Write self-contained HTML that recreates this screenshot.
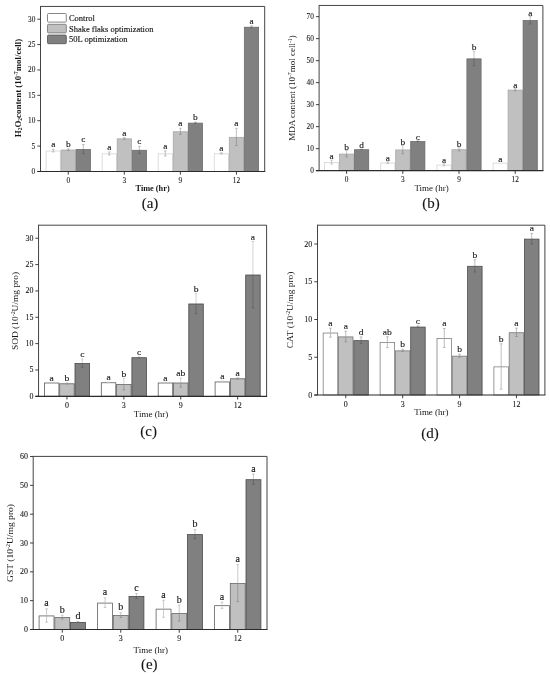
<!DOCTYPE html>
<html lang="en">
<head>
<meta charset="utf-8">
<title>Figure</title>
<style>
html,body{margin:0;padding:0;background:#fff;}
body{width:550px;height:676px;overflow:hidden;}
svg{display:block;}
text{font-family:"Liberation Serif",serif;fill:#151515;}
.tk{font-size:7.2px;stroke:#151515;stroke-width:0.08px;}
.tk2{font-size:7.3px;stroke:#151515;stroke-width:0.08px;}
.lt{font-size:9.0px;stroke:#1a1a1a;stroke-width:0.13px;}
.lc,.ld{font-size:9.2px;}
.le{font-size:9.6px;}
.al{font-size:9.1px;font-weight:bold;}
.ar{font-size:8.9px;}
.su{font-size:5.6px;}
.lg{font-size:9.2px;stroke:#151515;stroke-width:0.15px;}
.cp{font-size:15px;stroke:#151515;stroke-width:0.12px;}
</style>
</head>
<body>
<svg width="550" height="676" viewBox="0 0 550 676">
<rect x="0" y="0" width="550" height="676" fill="#ffffff"/>
<g id="chart-a">
<rect x="46.1" y="151.04" width="14.25" height="20.41" fill="#ffffff" stroke="#d4d4d4" stroke-width="0.8"/>
<rect x="61.15" y="150.03" width="14.25" height="21.42" fill="#c0c0c0" stroke="#a8a8a8" stroke-width="0.8"/>
<rect x="76.2" y="149.52" width="14.25" height="21.93" fill="#808080" stroke="#6c6c6c" stroke-width="0.8"/>
<rect x="102.15" y="153.83" width="14.25" height="17.62" fill="#ffffff" stroke="#d4d4d4" stroke-width="0.8"/>
<rect x="117.2" y="138.86" width="14.25" height="32.59" fill="#c0c0c0" stroke="#a8a8a8" stroke-width="0.8"/>
<rect x="132.25" y="150.28" width="14.25" height="21.17" fill="#808080" stroke="#6c6c6c" stroke-width="0.8"/>
<rect x="158.2" y="153.83" width="14.25" height="17.62" fill="#ffffff" stroke="#d4d4d4" stroke-width="0.8"/>
<rect x="173.25" y="131.76" width="14.25" height="39.69" fill="#c0c0c0" stroke="#a8a8a8" stroke-width="0.8"/>
<rect x="188.3" y="123.13" width="14.25" height="48.32" fill="#808080" stroke="#6c6c6c" stroke-width="0.8"/>
<rect x="214.25" y="153.83" width="14.25" height="17.62" fill="#ffffff" stroke="#d4d4d4" stroke-width="0.8"/>
<rect x="229.3" y="137.34" width="14.25" height="34.11" fill="#c0c0c0" stroke="#a8a8a8" stroke-width="0.8"/>
<rect x="244.35" y="27.21" width="14.25" height="144.24" fill="#808080" stroke="#6c6c6c" stroke-width="0.8"/>
<path d="M53.23 150.64V149.37M51.93 149.37H54.52" stroke="#a8a8a8" stroke-width="0.7" fill="none"/>
<path d="M53.23 150.64V151.91M51.93 151.91H54.52" stroke="#a8a8a8" stroke-width="0.7" fill="none"/>
<text transform="translate(53.23 147.17) scale(1.04 1)" class="lt la" text-anchor="middle">a</text>
<path d="M68.28 149.63V148.87M66.98 148.87H69.58" stroke="#a8a8a8" stroke-width="0.7" fill="none"/>
<path d="M68.28 149.63V150.39M66.98 150.39H69.58" stroke="#8a8a8a" stroke-width="0.7" fill="none"/>
<text transform="translate(68.28 146.67) scale(1.04 1)" class="lt la" text-anchor="middle">b</text>
<path d="M83.33 149.12V144.55M82.03 144.55H84.63" stroke="#a8a8a8" stroke-width="0.7" fill="none"/>
<path d="M83.33 149.12V153.69M82.03 153.69H84.63" stroke="#5c5c5c" stroke-width="0.7" fill="none"/>
<text transform="translate(83.33 142.35) scale(1.04 1)" class="lt la" text-anchor="middle">c</text>
<path d="M109.28 153.43V151.91M107.98 151.91H110.58" stroke="#a8a8a8" stroke-width="0.7" fill="none"/>
<path d="M109.28 153.43V154.96M107.98 154.96H110.58" stroke="#a8a8a8" stroke-width="0.7" fill="none"/>
<text transform="translate(109.28 149.71) scale(1.04 1)" class="lt la" text-anchor="middle">a</text>
<path d="M124.33 138.46V137.7M123.03 137.7H125.62" stroke="#a8a8a8" stroke-width="0.7" fill="none"/>
<path d="M124.33 138.46V139.22M123.03 139.22H125.62" stroke="#8a8a8a" stroke-width="0.7" fill="none"/>
<text transform="translate(124.33 135.5) scale(1.04 1)" class="lt la" text-anchor="middle">a</text>
<path d="M139.38 149.88V146.33M138.07 146.33H140.68" stroke="#a8a8a8" stroke-width="0.7" fill="none"/>
<path d="M139.38 149.88V153.43M138.07 153.43H140.68" stroke="#5c5c5c" stroke-width="0.7" fill="none"/>
<text transform="translate(139.38 144.13) scale(1.04 1)" class="lt la" text-anchor="middle">c</text>
<path d="M165.33 153.43V150.9M164.03 150.9H166.63" stroke="#a8a8a8" stroke-width="0.7" fill="none"/>
<path d="M165.33 153.43V155.97M164.03 155.97H166.63" stroke="#a8a8a8" stroke-width="0.7" fill="none"/>
<text transform="translate(165.33 148.7) scale(1.04 1)" class="lt la" text-anchor="middle">a</text>
<path d="M180.38 131.36V128.31M179.08 128.31H181.68" stroke="#a8a8a8" stroke-width="0.7" fill="none"/>
<path d="M180.38 131.36V134.4M179.08 134.4H181.68" stroke="#8a8a8a" stroke-width="0.7" fill="none"/>
<text transform="translate(180.38 126.11) scale(1.04 1)" class="lt la" text-anchor="middle">a</text>
<path d="M195.43 122.73V122.22M194.12 122.22H196.73" stroke="#a8a8a8" stroke-width="0.7" fill="none"/>
<path d="M195.43 122.73V123.24M194.12 123.24H196.73" stroke="#5c5c5c" stroke-width="0.7" fill="none"/>
<text transform="translate(195.43 120.02) scale(1.04 1)" class="lt la" text-anchor="middle">b</text>
<path d="M221.37 153.43V152.93M220.07 152.93H222.67" stroke="#a8a8a8" stroke-width="0.7" fill="none"/>
<path d="M221.37 153.43V153.94M220.07 153.94H222.67" stroke="#a8a8a8" stroke-width="0.7" fill="none"/>
<text transform="translate(221.37 150.73) scale(1.04 1)" class="lt la" text-anchor="middle">a</text>
<path d="M236.42 136.94V128.31M235.12 128.31H237.72" stroke="#a8a8a8" stroke-width="0.7" fill="none"/>
<path d="M236.42 136.94V145.57M235.12 145.57H237.72" stroke="#8a8a8a" stroke-width="0.7" fill="none"/>
<text transform="translate(236.42 126.11) scale(1.04 1)" class="lt la" text-anchor="middle">a</text>
<path d="M251.47 26.81V25.8M250.17 25.8H252.77" stroke="#a8a8a8" stroke-width="0.7" fill="none"/>
<path d="M251.47 26.81V27.83M250.17 27.83H252.77" stroke="#5c5c5c" stroke-width="0.7" fill="none"/>
<text transform="translate(251.47 23.6) scale(1.04 1)" class="lt la" text-anchor="middle">a</text>
<path d="M40.5 6.45H264.7V171.45" stroke="#444" stroke-width="1" fill="none"/>
<path d="M40.5 5.95V171.45" stroke="#444" stroke-width="1" fill="none"/>
<path d="M37.3 171.45H265.2" stroke="#2b2b2b" stroke-width="1.15" fill="none"/>
<path d="M37.3 171.45H40.5" stroke="#2b2b2b" stroke-width="0.9"/>
<text transform="translate(35.3 173.95) scale(1.02 1)" class="tk" text-anchor="end">0</text>
<path d="M37.3 146.07H40.5" stroke="#2b2b2b" stroke-width="0.9"/>
<text transform="translate(35.3 148.57) scale(1.02 1)" class="tk" text-anchor="end">5</text>
<path d="M37.3 120.7H40.5" stroke="#2b2b2b" stroke-width="0.9"/>
<text transform="translate(35.3 123.2) scale(1.02 1)" class="tk" text-anchor="end">10</text>
<path d="M37.3 95.32H40.5" stroke="#2b2b2b" stroke-width="0.9"/>
<text transform="translate(35.3 97.82) scale(1.02 1)" class="tk" text-anchor="end">15</text>
<path d="M37.3 69.95H40.5" stroke="#2b2b2b" stroke-width="0.9"/>
<text transform="translate(35.3 72.45) scale(1.02 1)" class="tk" text-anchor="end">20</text>
<path d="M37.3 44.57H40.5" stroke="#2b2b2b" stroke-width="0.9"/>
<text transform="translate(35.3 47.07) scale(1.02 1)" class="tk" text-anchor="end">25</text>
<path d="M37.3 19.2H40.5" stroke="#2b2b2b" stroke-width="0.9"/>
<text transform="translate(35.3 21.7) scale(1.02 1)" class="tk" text-anchor="end">30</text>
<path d="M68.28 171.45V174.65" stroke="#2b2b2b" stroke-width="0.9"/>
<text transform="translate(68.28 183.1) scale(1.02 1)" class="tk" text-anchor="middle">0</text>
<path d="M124.33 171.45V174.65" stroke="#2b2b2b" stroke-width="0.9"/>
<text transform="translate(124.33 183.1) scale(1.02 1)" class="tk" text-anchor="middle">3</text>
<path d="M180.38 171.45V174.65" stroke="#2b2b2b" stroke-width="0.9"/>
<text transform="translate(180.38 183.1) scale(1.02 1)" class="tk" text-anchor="middle">9</text>
<path d="M236.42 171.45V174.65" stroke="#2b2b2b" stroke-width="0.9"/>
<text transform="translate(236.42 183.1) scale(1.02 1)" class="tk" text-anchor="middle">12</text>
<text transform="translate(152.6 191.4) scale(0.91 1)" class="al" text-anchor="middle">Time (hr)</text>
<text transform="translate(150 208) scale(1.0 1)" class="cp" text-anchor="middle">(a)</text>
<text id="yl-a" transform="translate(20.5 88) rotate(-90) scale(0.975 1)" class="al" text-anchor="middle"><tspan>H</tspan><tspan class="su" dy="1.8">2</tspan><tspan dy="-1.8" font-size="0.1">&#8203;</tspan><tspan>O</tspan><tspan class="su" dy="1.8">2</tspan><tspan dy="-1.8" font-size="0.1">&#8203;</tspan><tspan>content (10</tspan><tspan class="su" dy="-3">-7</tspan><tspan dy="3" font-size="0.1">&#8203;</tspan><tspan>mol/cell)</tspan></text>
</g>
<g id="chart-b">
<rect x="324.5" y="162.47" width="14.2" height="8.18" fill="#ffffff" stroke="#d4d4d4" stroke-width="0.8"/>
<rect x="339.5" y="154.11" width="14.2" height="16.54" fill="#c0c0c0" stroke="#a8a8a8" stroke-width="0.8"/>
<rect x="354.5" y="149.71" width="14.2" height="20.94" fill="#808080" stroke="#6c6c6c" stroke-width="0.8"/>
<rect x="380.7" y="163.02" width="14.2" height="7.63" fill="#ffffff" stroke="#d4d4d4" stroke-width="0.8"/>
<rect x="395.7" y="149.93" width="14.2" height="20.72" fill="#c0c0c0" stroke="#a8a8a8" stroke-width="0.8"/>
<rect x="410.7" y="141.57" width="14.2" height="29.08" fill="#808080" stroke="#6c6c6c" stroke-width="0.8"/>
<rect x="436.9" y="165.11" width="14.2" height="5.54" fill="#ffffff" stroke="#d4d4d4" stroke-width="0.8"/>
<rect x="451.9" y="149.71" width="14.2" height="20.94" fill="#c0c0c0" stroke="#a8a8a8" stroke-width="0.8"/>
<rect x="466.9" y="58.85" width="14.2" height="111.8" fill="#808080" stroke="#6c6c6c" stroke-width="0.8"/>
<rect x="493.1" y="163.13" width="14.2" height="7.52" fill="#ffffff" stroke="#d4d4d4" stroke-width="0.8"/>
<rect x="508.1" y="90.09" width="14.2" height="80.56" fill="#c0c0c0" stroke="#a8a8a8" stroke-width="0.8"/>
<rect x="523.1" y="20.57" width="14.2" height="150.08" fill="#808080" stroke="#6c6c6c" stroke-width="0.8"/>
<path d="M331.6 162.07V160.09M330.3 160.09H332.9" stroke="#b0b0b0" stroke-width="0.7" fill="none"/>
<path d="M331.6 162.07V164.05M330.3 164.05H332.9" stroke="#b0b0b0" stroke-width="0.7" fill="none"/>
<text transform="translate(331.6 159.39) scale(1.04 1)" class="lt lb" text-anchor="middle">a</text>
<path d="M346.6 153.71V150.52M345.3 150.52H347.9" stroke="#b0b0b0" stroke-width="0.7" fill="none"/>
<path d="M346.6 153.71V156.9M345.3 156.9H347.9" stroke="#8a8a8a" stroke-width="0.7" fill="none"/>
<text transform="translate(346.6 149.82) scale(1.04 1)" class="lt lb" text-anchor="middle">b</text>
<path d="M361.6 149.31V149.09M360.3 149.09H362.9" stroke="#b0b0b0" stroke-width="0.7" fill="none"/>
<path d="M361.6 149.31V149.53M360.3 149.53H362.9" stroke="#5c5c5c" stroke-width="0.7" fill="none"/>
<text transform="translate(361.6 148.39) scale(1.04 1)" class="lt lb" text-anchor="middle">d</text>
<path d="M387.8 162.62V161.74M386.5 161.74H389.1" stroke="#b0b0b0" stroke-width="0.7" fill="none"/>
<path d="M387.8 162.62V163.5M386.5 163.5H389.1" stroke="#b0b0b0" stroke-width="0.7" fill="none"/>
<text transform="translate(387.8 161.04) scale(1.04 1)" class="lt lb" text-anchor="middle">a</text>
<path d="M402.8 149.53V145.35M401.5 145.35H404.1" stroke="#b0b0b0" stroke-width="0.7" fill="none"/>
<path d="M402.8 149.53V153.71M401.5 153.71H404.1" stroke="#8a8a8a" stroke-width="0.7" fill="none"/>
<text transform="translate(402.8 144.65) scale(1.04 1)" class="lt lb" text-anchor="middle">b</text>
<path d="M417.8 141.17V140.73M416.5 140.73H419.1" stroke="#b0b0b0" stroke-width="0.7" fill="none"/>
<path d="M417.8 141.17V141.61M416.5 141.61H419.1" stroke="#5c5c5c" stroke-width="0.7" fill="none"/>
<text transform="translate(417.8 140.03) scale(1.04 1)" class="lt lb" text-anchor="middle">c</text>
<path d="M444 164.71V163.61M442.7 163.61H445.3" stroke="#b0b0b0" stroke-width="0.7" fill="none"/>
<path d="M444 164.71V165.81M442.7 165.81H445.3" stroke="#b0b0b0" stroke-width="0.7" fill="none"/>
<text transform="translate(444 162.91) scale(1.04 1)" class="lt lb" text-anchor="middle">a</text>
<path d="M459 149.31V147.77M457.7 147.77H460.3" stroke="#b0b0b0" stroke-width="0.7" fill="none"/>
<path d="M459 149.31V150.85M457.7 150.85H460.3" stroke="#8a8a8a" stroke-width="0.7" fill="none"/>
<text transform="translate(459 147.07) scale(1.04 1)" class="lt lb" text-anchor="middle">b</text>
<path d="M474 58.45V51.19M472.7 51.19H475.3" stroke="#b0b0b0" stroke-width="0.7" fill="none"/>
<path d="M474 58.45V65.71M472.7 65.71H475.3" stroke="#5c5c5c" stroke-width="0.7" fill="none"/>
<text transform="translate(474 50.49) scale(1.04 1)" class="lt lb" text-anchor="middle">b</text>
<text transform="translate(500.2 162.03) scale(1.04 1)" class="lt lb" text-anchor="middle">a</text>
<path d="M515.2 89.69V88.59M513.9 88.59H516.5" stroke="#b0b0b0" stroke-width="0.7" fill="none"/>
<path d="M515.2 89.69V90.79M513.9 90.79H516.5" stroke="#8a8a8a" stroke-width="0.7" fill="none"/>
<text transform="translate(515.2 87.89) scale(1.04 1)" class="lt lb" text-anchor="middle">a</text>
<path d="M530.2 20.17V16.43M528.9 16.43H531.5" stroke="#b0b0b0" stroke-width="0.7" fill="none"/>
<path d="M530.2 20.17V23.91M528.9 23.91H531.5" stroke="#5c5c5c" stroke-width="0.7" fill="none"/>
<text transform="translate(530.2 15.73) scale(1.04 1)" class="lt lb" text-anchor="middle">a</text>
<path d="M319.1 5.45H542.9V170.65" stroke="#444" stroke-width="1" fill="none"/>
<path d="M319.1 4.95V170.65" stroke="#444" stroke-width="1" fill="none"/>
<path d="M315.9 170.65H543.4" stroke="#2b2b2b" stroke-width="1.15" fill="none"/>
<path d="M315.9 170.65H319.1" stroke="#2b2b2b" stroke-width="0.9"/>
<text transform="translate(313.9 173.15) scale(1.02 1)" class="tk" text-anchor="end">0</text>
<path d="M315.9 148.65H319.1" stroke="#2b2b2b" stroke-width="0.9"/>
<text transform="translate(313.9 151.15) scale(1.02 1)" class="tk" text-anchor="end">10</text>
<path d="M315.9 126.65H319.1" stroke="#2b2b2b" stroke-width="0.9"/>
<text transform="translate(313.9 129.15) scale(1.02 1)" class="tk" text-anchor="end">20</text>
<path d="M315.9 104.65H319.1" stroke="#2b2b2b" stroke-width="0.9"/>
<text transform="translate(313.9 107.15) scale(1.02 1)" class="tk" text-anchor="end">30</text>
<path d="M315.9 82.65H319.1" stroke="#2b2b2b" stroke-width="0.9"/>
<text transform="translate(313.9 85.15) scale(1.02 1)" class="tk" text-anchor="end">40</text>
<path d="M315.9 60.65H319.1" stroke="#2b2b2b" stroke-width="0.9"/>
<text transform="translate(313.9 63.15) scale(1.02 1)" class="tk" text-anchor="end">50</text>
<path d="M315.9 38.65H319.1" stroke="#2b2b2b" stroke-width="0.9"/>
<text transform="translate(313.9 41.15) scale(1.02 1)" class="tk" text-anchor="end">60</text>
<path d="M315.9 16.65H319.1" stroke="#2b2b2b" stroke-width="0.9"/>
<text transform="translate(313.9 19.15) scale(1.02 1)" class="tk" text-anchor="end">70</text>
<path d="M346.6 170.65V173.85" stroke="#2b2b2b" stroke-width="0.9"/>
<text transform="translate(346.6 181.7) scale(1.02 1)" class="tk" text-anchor="middle">0</text>
<path d="M402.8 170.65V173.85" stroke="#2b2b2b" stroke-width="0.9"/>
<text transform="translate(402.8 181.7) scale(1.02 1)" class="tk" text-anchor="middle">3</text>
<path d="M459 170.65V173.85" stroke="#2b2b2b" stroke-width="0.9"/>
<text transform="translate(459 181.7) scale(1.02 1)" class="tk" text-anchor="middle">9</text>
<path d="M515.2 170.65V173.85" stroke="#2b2b2b" stroke-width="0.9"/>
<text transform="translate(515.2 181.7) scale(1.02 1)" class="tk" text-anchor="middle">12</text>
<text transform="translate(431.6 190.9) scale(1.01 1)" class="ar" text-anchor="middle">Time (hr)</text>
<text transform="translate(430.9 208.3) scale(1.0 1)" class="cp" text-anchor="middle">(b)</text>
<text id="yl-b" transform="translate(294.5 88) rotate(-90) scale(1.015 1)" class="ar" text-anchor="middle"><tspan>MDA content (10</tspan><tspan class="su" dy="-3">-7</tspan><tspan dy="3" font-size="0.1">&#8203;</tspan><tspan>mol cell</tspan><tspan class="su" dy="-3">-1</tspan><tspan dy="3" font-size="0.1">&#8203;</tspan><tspan>)</tspan></text>
</g>
<g id="chart-c">
<rect x="44.4" y="383" width="14.5" height="13.3" fill="#ffffff" stroke="#5c5c5c" stroke-width="0.8"/>
<rect x="59.7" y="383.79" width="14.5" height="12.51" fill="#c0c0c0" stroke="#626262" stroke-width="0.8"/>
<rect x="75" y="363.51" width="14.5" height="32.79" fill="#808080" stroke="#484848" stroke-width="0.8"/>
<rect x="101.3" y="382.74" width="14.5" height="13.56" fill="#ffffff" stroke="#5c5c5c" stroke-width="0.8"/>
<rect x="116.6" y="384.58" width="14.5" height="11.72" fill="#c0c0c0" stroke="#626262" stroke-width="0.8"/>
<rect x="131.9" y="357.72" width="14.5" height="38.58" fill="#808080" stroke="#484848" stroke-width="0.8"/>
<rect x="158.2" y="383" width="14.5" height="13.3" fill="#ffffff" stroke="#5c5c5c" stroke-width="0.8"/>
<rect x="173.5" y="383" width="14.5" height="13.3" fill="#c0c0c0" stroke="#626262" stroke-width="0.8"/>
<rect x="188.8" y="303.98" width="14.5" height="92.32" fill="#808080" stroke="#484848" stroke-width="0.8"/>
<rect x="215.1" y="381.95" width="14.5" height="14.35" fill="#ffffff" stroke="#5c5c5c" stroke-width="0.8"/>
<rect x="230.4" y="378.79" width="14.5" height="17.51" fill="#c0c0c0" stroke="#626262" stroke-width="0.8"/>
<rect x="245.7" y="275.01" width="14.5" height="121.29" fill="#808080" stroke="#484848" stroke-width="0.8"/>
<path d="M51.65 382.6V382.34M50.35 382.34H52.95" stroke="#c0c0c0" stroke-width="0.7" fill="none"/>
<path d="M51.65 382.6V382.87M50.35 382.87H52.95" stroke="#c0c0c0" stroke-width="0.7" fill="none"/>
<text transform="translate(51.65 380.54) scale(1.04 1)" class="lt lc" text-anchor="middle">a</text>
<path d="M66.95 383.39V382.87M65.65 382.87H68.25" stroke="#c0c0c0" stroke-width="0.7" fill="none"/>
<path d="M66.95 383.39V383.92M65.65 383.92H68.25" stroke="#8a8a8a" stroke-width="0.7" fill="none"/>
<text transform="translate(66.95 381.07) scale(1.04 1)" class="lt lc" text-anchor="middle">b</text>
<path d="M82.25 363.11V358.9M80.95 358.9H83.55" stroke="#c0c0c0" stroke-width="0.7" fill="none"/>
<path d="M82.25 363.11V367.33M80.95 367.33H83.55" stroke="#5c5c5c" stroke-width="0.7" fill="none"/>
<text transform="translate(82.25 357.1) scale(1.04 1)" class="lt lc" text-anchor="middle">c</text>
<path d="M108.55 382.34V382.08M107.25 382.08H109.85" stroke="#c0c0c0" stroke-width="0.7" fill="none"/>
<path d="M108.55 382.34V382.6M107.25 382.6H109.85" stroke="#c0c0c0" stroke-width="0.7" fill="none"/>
<text transform="translate(108.55 380.28) scale(1.04 1)" class="lt lc" text-anchor="middle">a</text>
<path d="M123.85 384.18V378.39M122.55 378.39H125.15" stroke="#c0c0c0" stroke-width="0.7" fill="none"/>
<path d="M123.85 384.18V389.98M122.55 389.98H125.15" stroke="#8a8a8a" stroke-width="0.7" fill="none"/>
<text transform="translate(123.85 376.59) scale(1.04 1)" class="lt lc" text-anchor="middle">b</text>
<path d="M139.15 357.32V356.79M137.85 356.79H140.45" stroke="#c0c0c0" stroke-width="0.7" fill="none"/>
<path d="M139.15 357.32V357.84M137.85 357.84H140.45" stroke="#5c5c5c" stroke-width="0.7" fill="none"/>
<text transform="translate(139.15 354.99) scale(1.04 1)" class="lt lc" text-anchor="middle">c</text>
<path d="M165.45 382.6V382.34M164.15 382.34H166.75" stroke="#c0c0c0" stroke-width="0.7" fill="none"/>
<path d="M165.45 382.6V382.87M164.15 382.87H166.75" stroke="#c0c0c0" stroke-width="0.7" fill="none"/>
<text transform="translate(165.45 380.54) scale(1.04 1)" class="lt lc" text-anchor="middle">a</text>
<path d="M180.75 382.6V378.02M179.45 378.02H182.05" stroke="#c0c0c0" stroke-width="0.7" fill="none"/>
<path d="M180.75 382.6V387.19M179.45 387.19H182.05" stroke="#8a8a8a" stroke-width="0.7" fill="none"/>
<text transform="translate(180.75 376.22) scale(1.04 1)" class="lt lc" text-anchor="middle">ab</text>
<path d="M196.05 303.58V293.57M194.75 293.57H197.35" stroke="#c0c0c0" stroke-width="0.7" fill="none"/>
<path d="M196.05 303.58V313.59M194.75 313.59H197.35" stroke="#5c5c5c" stroke-width="0.7" fill="none"/>
<text transform="translate(196.05 291.77) scale(1.04 1)" class="lt lc" text-anchor="middle">b</text>
<path d="M222.35 381.55V381.29M221.05 381.29H223.65" stroke="#c0c0c0" stroke-width="0.7" fill="none"/>
<path d="M222.35 381.55V381.81M221.05 381.81H223.65" stroke="#c0c0c0" stroke-width="0.7" fill="none"/>
<text transform="translate(222.35 379.49) scale(1.04 1)" class="lt lc" text-anchor="middle">a</text>
<path d="M237.65 378.39V377.6M236.35 377.6H238.95" stroke="#c0c0c0" stroke-width="0.7" fill="none"/>
<path d="M237.65 378.39V379.18M236.35 379.18H238.95" stroke="#8a8a8a" stroke-width="0.7" fill="none"/>
<text transform="translate(237.65 375.8) scale(1.04 1)" class="lt lc" text-anchor="middle">a</text>
<path d="M252.95 274.61V241.42M251.65 241.42H254.25" stroke="#c0c0c0" stroke-width="0.7" fill="none"/>
<path d="M252.95 274.61V307.8M251.65 307.8H254.25" stroke="#5c5c5c" stroke-width="0.7" fill="none"/>
<text transform="translate(252.95 239.62) scale(1.04 1)" class="lt lc" text-anchor="middle">a</text>
<path d="M38.55 225.2H266.6V396.3" stroke="#444" stroke-width="1" fill="none"/>
<path d="M38.55 224.7V396.3" stroke="#444" stroke-width="1" fill="none"/>
<path d="M35.35 396.3H267.1" stroke="#2b2b2b" stroke-width="1.15" fill="none"/>
<path d="M35.35 396.3H38.55" stroke="#2b2b2b" stroke-width="0.9"/>
<text transform="translate(33.35 398.8) scale(1.09 1)" class="tk2" text-anchor="end">0</text>
<path d="M35.35 369.96H38.55" stroke="#2b2b2b" stroke-width="0.9"/>
<text transform="translate(33.35 372.46) scale(1.09 1)" class="tk2" text-anchor="end">5</text>
<path d="M35.35 343.62H38.55" stroke="#2b2b2b" stroke-width="0.9"/>
<text transform="translate(33.35 346.12) scale(1.09 1)" class="tk2" text-anchor="end">10</text>
<path d="M35.35 317.28H38.55" stroke="#2b2b2b" stroke-width="0.9"/>
<text transform="translate(33.35 319.78) scale(1.09 1)" class="tk2" text-anchor="end">15</text>
<path d="M35.35 290.94H38.55" stroke="#2b2b2b" stroke-width="0.9"/>
<text transform="translate(33.35 293.44) scale(1.09 1)" class="tk2" text-anchor="end">20</text>
<path d="M35.35 264.6H38.55" stroke="#2b2b2b" stroke-width="0.9"/>
<text transform="translate(33.35 267.1) scale(1.09 1)" class="tk2" text-anchor="end">25</text>
<path d="M35.35 238.26H38.55" stroke="#2b2b2b" stroke-width="0.9"/>
<text transform="translate(33.35 240.76) scale(1.09 1)" class="tk2" text-anchor="end">30</text>
<path d="M66.95 396.3V399.5" stroke="#2b2b2b" stroke-width="0.9"/>
<text transform="translate(66.95 407.9) scale(1.09 1)" class="tk2" text-anchor="middle">0</text>
<path d="M123.85 396.3V399.5" stroke="#2b2b2b" stroke-width="0.9"/>
<text transform="translate(123.85 407.9) scale(1.09 1)" class="tk2" text-anchor="middle">3</text>
<path d="M180.75 396.3V399.5" stroke="#2b2b2b" stroke-width="0.9"/>
<text transform="translate(180.75 407.9) scale(1.09 1)" class="tk2" text-anchor="middle">9</text>
<path d="M237.65 396.3V399.5" stroke="#2b2b2b" stroke-width="0.9"/>
<text transform="translate(237.65 407.9) scale(1.09 1)" class="tk2" text-anchor="middle">12</text>
<text transform="translate(151 416.9) scale(1.01 1)" class="ar" text-anchor="middle">Time (hr)</text>
<text transform="translate(148.6 435.5) scale(1.0 1)" class="cp" text-anchor="middle">(c)</text>
<text id="yl-c" transform="translate(17.6 311) rotate(-90) scale(1.058 1)" class="ar" text-anchor="middle"><tspan>SOD (10</tspan><tspan class="su" dy="-3">-2</tspan><tspan dy="3" font-size="0.1">&#8203;</tspan><tspan>U/mg pro)</tspan></text>
</g>
<g id="chart-d">
<rect x="323.2" y="333.04" width="14.5" height="61.96" fill="#ffffff" stroke="#808080" stroke-width="0.8"/>
<rect x="338.5" y="336.89" width="14.5" height="58.11" fill="#c0c0c0" stroke="#787878" stroke-width="0.8"/>
<rect x="353.8" y="340.66" width="14.5" height="54.34" fill="#808080" stroke="#4c4c4c" stroke-width="0.8"/>
<rect x="380.1" y="342.55" width="14.5" height="52.45" fill="#ffffff" stroke="#808080" stroke-width="0.8"/>
<rect x="395.4" y="350.85" width="14.5" height="44.15" fill="#c0c0c0" stroke="#787878" stroke-width="0.8"/>
<rect x="410.7" y="327.07" width="14.5" height="67.93" fill="#808080" stroke="#4c4c4c" stroke-width="0.8"/>
<rect x="437" y="338.4" width="14.5" height="56.6" fill="#ffffff" stroke="#808080" stroke-width="0.8"/>
<rect x="452.3" y="356.14" width="14.5" height="38.86" fill="#c0c0c0" stroke="#787878" stroke-width="0.8"/>
<rect x="467.6" y="266.29" width="14.5" height="128.71" fill="#808080" stroke="#4c4c4c" stroke-width="0.8"/>
<rect x="493.9" y="366.86" width="14.5" height="28.14" fill="#ffffff" stroke="#808080" stroke-width="0.8"/>
<rect x="509.2" y="332.73" width="14.5" height="62.27" fill="#c0c0c0" stroke="#787878" stroke-width="0.8"/>
<rect x="524.5" y="239.12" width="14.5" height="155.88" fill="#808080" stroke="#4c4c4c" stroke-width="0.8"/>
<path d="M330.45 332.64V328.11M329.15 328.11H331.75" stroke="#a0a0a0" stroke-width="0.7" fill="none"/>
<path d="M330.45 332.64V337.17M329.15 337.17H331.75" stroke="#a0a0a0" stroke-width="0.7" fill="none"/>
<text transform="translate(330.45 326.11) scale(1.04 1)" class="lt ld" text-anchor="middle">a</text>
<path d="M345.75 336.49V331.2M344.45 331.2H347.05" stroke="#a0a0a0" stroke-width="0.7" fill="none"/>
<path d="M345.75 336.49V341.77M344.45 341.77H347.05" stroke="#8a8a8a" stroke-width="0.7" fill="none"/>
<text transform="translate(345.75 329.2) scale(1.04 1)" class="lt ld" text-anchor="middle">a</text>
<path d="M361.05 340.26V336.94M359.75 336.94H362.35" stroke="#a0a0a0" stroke-width="0.7" fill="none"/>
<path d="M361.05 340.26V343.58M359.75 343.58H362.35" stroke="#5c5c5c" stroke-width="0.7" fill="none"/>
<text transform="translate(361.05 334.94) scale(1.04 1)" class="lt ld" text-anchor="middle">d</text>
<path d="M387.35 342.15V336.71M386.05 336.71H388.65" stroke="#a0a0a0" stroke-width="0.7" fill="none"/>
<path d="M387.35 342.15V347.59M386.05 347.59H388.65" stroke="#a0a0a0" stroke-width="0.7" fill="none"/>
<text transform="translate(387.35 334.71) scale(1.04 1)" class="lt ld" text-anchor="middle">ab</text>
<path d="M402.65 350.45V349.32M401.35 349.32H403.95" stroke="#a0a0a0" stroke-width="0.7" fill="none"/>
<path d="M402.65 350.45V351.59M401.35 351.59H403.95" stroke="#8a8a8a" stroke-width="0.7" fill="none"/>
<text transform="translate(402.65 347.32) scale(1.04 1)" class="lt ld" text-anchor="middle">b</text>
<path d="M417.95 326.67V325.92M416.65 325.92H419.25" stroke="#a0a0a0" stroke-width="0.7" fill="none"/>
<path d="M417.95 326.67V327.43M416.65 327.43H419.25" stroke="#5c5c5c" stroke-width="0.7" fill="none"/>
<text transform="translate(417.95 323.92) scale(1.04 1)" class="lt ld" text-anchor="middle">c</text>
<path d="M444.25 338V328.48M442.95 328.48H445.55" stroke="#a0a0a0" stroke-width="0.7" fill="none"/>
<path d="M444.25 338V347.51M442.95 347.51H445.55" stroke="#a0a0a0" stroke-width="0.7" fill="none"/>
<text transform="translate(444.25 326.48) scale(1.04 1)" class="lt ld" text-anchor="middle">a</text>
<path d="M459.55 355.74V354.23M458.25 354.23H460.85" stroke="#a0a0a0" stroke-width="0.7" fill="none"/>
<path d="M459.55 355.74V357.25M458.25 357.25H460.85" stroke="#8a8a8a" stroke-width="0.7" fill="none"/>
<text transform="translate(459.55 352.23) scale(1.04 1)" class="lt ld" text-anchor="middle">b</text>
<path d="M474.85 265.89V259.85M473.55 259.85H476.15" stroke="#a0a0a0" stroke-width="0.7" fill="none"/>
<path d="M474.85 265.89V271.94M473.55 271.94H476.15" stroke="#5c5c5c" stroke-width="0.7" fill="none"/>
<text transform="translate(474.85 257.85) scale(1.04 1)" class="lt ld" text-anchor="middle">b</text>
<path d="M501.15 366.46V343.81M499.85 343.81H502.45" stroke="#a0a0a0" stroke-width="0.7" fill="none"/>
<path d="M501.15 366.46V389.11M499.85 389.11H502.45" stroke="#a0a0a0" stroke-width="0.7" fill="none"/>
<text transform="translate(501.15 341.81) scale(1.04 1)" class="lt ld" text-anchor="middle">b</text>
<path d="M516.45 332.33V328.18M515.15 328.18H517.75" stroke="#a0a0a0" stroke-width="0.7" fill="none"/>
<path d="M516.45 332.33V336.49M515.15 336.49H517.75" stroke="#8a8a8a" stroke-width="0.7" fill="none"/>
<text transform="translate(516.45 326.18) scale(1.04 1)" class="lt ld" text-anchor="middle">a</text>
<path d="M531.75 238.72V233.43M530.45 233.43H533.05" stroke="#a0a0a0" stroke-width="0.7" fill="none"/>
<path d="M531.75 238.72V244M530.45 244H533.05" stroke="#5c5c5c" stroke-width="0.7" fill="none"/>
<text transform="translate(531.75 231.43) scale(1.04 1)" class="lt ld" text-anchor="middle">a</text>
<path d="M317.5 225.2H544.9V395" stroke="#444" stroke-width="1" fill="none"/>
<path d="M317.5 224.7V395" stroke="#444" stroke-width="1" fill="none"/>
<path d="M314.3 395H545.4" stroke="#2b2b2b" stroke-width="1.15" fill="none"/>
<path d="M314.3 395H317.5" stroke="#2b2b2b" stroke-width="0.9"/>
<text transform="translate(312.3 397.5) scale(1.09 1)" class="tk2" text-anchor="end">0</text>
<path d="M314.3 357.25H317.5" stroke="#2b2b2b" stroke-width="0.9"/>
<text transform="translate(312.3 359.75) scale(1.09 1)" class="tk2" text-anchor="end">5</text>
<path d="M314.3 319.5H317.5" stroke="#2b2b2b" stroke-width="0.9"/>
<text transform="translate(312.3 322) scale(1.09 1)" class="tk2" text-anchor="end">10</text>
<path d="M314.3 281.75H317.5" stroke="#2b2b2b" stroke-width="0.9"/>
<text transform="translate(312.3 284.25) scale(1.09 1)" class="tk2" text-anchor="end">15</text>
<path d="M314.3 244H317.5" stroke="#2b2b2b" stroke-width="0.9"/>
<text transform="translate(312.3 246.5) scale(1.09 1)" class="tk2" text-anchor="end">20</text>
<path d="M345.75 395V398.2" stroke="#2b2b2b" stroke-width="0.9"/>
<text transform="translate(345.75 406.5) scale(1.09 1)" class="tk2" text-anchor="middle">0</text>
<path d="M402.65 395V398.2" stroke="#2b2b2b" stroke-width="0.9"/>
<text transform="translate(402.65 406.5) scale(1.09 1)" class="tk2" text-anchor="middle">3</text>
<path d="M459.55 395V398.2" stroke="#2b2b2b" stroke-width="0.9"/>
<text transform="translate(459.55 406.5) scale(1.09 1)" class="tk2" text-anchor="middle">9</text>
<path d="M516.45 395V398.2" stroke="#2b2b2b" stroke-width="0.9"/>
<text transform="translate(516.45 406.5) scale(1.09 1)" class="tk2" text-anchor="middle">12</text>
<text transform="translate(431.4 415.4) scale(1.01 1)" class="ar" text-anchor="middle">Time (hr)</text>
<text transform="translate(430 438.2) scale(1.0 1)" class="cp" text-anchor="middle">(d)</text>
<text id="yl-d" transform="translate(292.5 309.9) rotate(-90) scale(1.055 1)" class="ar" text-anchor="middle"><tspan>CAT (10</tspan><tspan class="su" dy="-3">-2</tspan><tspan dy="3" font-size="0.1">&#8203;</tspan><tspan>U/mg pro)</tspan></text>
</g>
<g id="chart-e">
<rect x="39.1" y="615.92" width="14.9" height="13.58" fill="#ffffff" stroke="#606060" stroke-width="0.8"/>
<rect x="54.8" y="617.5" width="14.9" height="12" fill="#c0c0c0" stroke="#686868" stroke-width="0.8"/>
<rect x="70.5" y="622.4" width="14.9" height="7.1" fill="#808080" stroke="#484848" stroke-width="0.8"/>
<rect x="97.6" y="603.09" width="14.9" height="26.41" fill="#ffffff" stroke="#606060" stroke-width="0.8"/>
<rect x="113.3" y="615.49" width="14.9" height="14.01" fill="#c0c0c0" stroke="#686868" stroke-width="0.8"/>
<rect x="129" y="596.46" width="14.9" height="33.04" fill="#808080" stroke="#484848" stroke-width="0.8"/>
<rect x="156.1" y="609.14" width="14.9" height="20.36" fill="#ffffff" stroke="#606060" stroke-width="0.8"/>
<rect x="171.8" y="613.47" width="14.9" height="16.03" fill="#c0c0c0" stroke="#686868" stroke-width="0.8"/>
<rect x="187.5" y="534.62" width="14.9" height="94.88" fill="#808080" stroke="#484848" stroke-width="0.8"/>
<rect x="214.6" y="605.68" width="14.9" height="23.82" fill="#ffffff" stroke="#606060" stroke-width="0.8"/>
<rect x="230.3" y="583.48" width="14.9" height="46.02" fill="#c0c0c0" stroke="#686868" stroke-width="0.8"/>
<rect x="246" y="479.7" width="14.9" height="149.8" fill="#808080" stroke="#484848" stroke-width="0.8"/>
<path d="M46.55 615.52V608.89M45.25 608.89H47.85" stroke="#b4b4b4" stroke-width="0.7" fill="none"/>
<path d="M46.55 615.52V622.15M45.25 622.15H47.85" stroke="#b4b4b4" stroke-width="0.7" fill="none"/>
<text transform="translate(46.55 606.39) scale(1.04 1)" class="lt le" text-anchor="middle">a</text>
<path d="M62.25 617.1V615.2M60.95 615.2H63.55" stroke="#b4b4b4" stroke-width="0.7" fill="none"/>
<path d="M62.25 617.1V619.01M60.95 619.01H63.55" stroke="#8a8a8a" stroke-width="0.7" fill="none"/>
<text transform="translate(62.25 612.7) scale(1.04 1)" class="lt le" text-anchor="middle">b</text>
<path d="M77.95 622V621.72M76.65 621.72H79.25" stroke="#b4b4b4" stroke-width="0.7" fill="none"/>
<path d="M77.95 622V622.29M76.65 622.29H79.25" stroke="#5c5c5c" stroke-width="0.7" fill="none"/>
<text transform="translate(77.95 619.22) scale(1.04 1)" class="lt le" text-anchor="middle">d</text>
<path d="M105.05 602.69V597.87M103.75 597.87H106.35" stroke="#b4b4b4" stroke-width="0.7" fill="none"/>
<path d="M105.05 602.69V607.5M103.75 607.5H106.35" stroke="#b4b4b4" stroke-width="0.7" fill="none"/>
<text transform="translate(105.05 595.37) scale(1.04 1)" class="lt le" text-anchor="middle">a</text>
<path d="M120.75 615.09V612.69M119.45 612.69H122.05" stroke="#b4b4b4" stroke-width="0.7" fill="none"/>
<path d="M120.75 615.09V617.48M119.45 617.48H122.05" stroke="#8a8a8a" stroke-width="0.7" fill="none"/>
<text transform="translate(120.75 610.19) scale(1.04 1)" class="lt le" text-anchor="middle">b</text>
<path d="M136.45 596.06V593.52M135.15 593.52H137.75" stroke="#b4b4b4" stroke-width="0.7" fill="none"/>
<path d="M136.45 596.06V598.59M135.15 598.59H137.75" stroke="#5c5c5c" stroke-width="0.7" fill="none"/>
<text transform="translate(136.45 591.02) scale(1.04 1)" class="lt le" text-anchor="middle">c</text>
<path d="M163.55 608.74V600.24M162.25 600.24H164.85" stroke="#b4b4b4" stroke-width="0.7" fill="none"/>
<path d="M163.55 608.74V617.25M162.25 617.25H164.85" stroke="#b4b4b4" stroke-width="0.7" fill="none"/>
<text transform="translate(163.55 597.74) scale(1.04 1)" class="lt le" text-anchor="middle">a</text>
<path d="M179.25 613.07V605.08M177.95 605.08H180.55" stroke="#b4b4b4" stroke-width="0.7" fill="none"/>
<path d="M179.25 613.07V621.05M177.95 621.05H180.55" stroke="#8a8a8a" stroke-width="0.7" fill="none"/>
<text transform="translate(179.25 602.58) scale(1.04 1)" class="lt le" text-anchor="middle">b</text>
<path d="M194.95 534.22V529.6M193.65 529.6H196.25" stroke="#b4b4b4" stroke-width="0.7" fill="none"/>
<path d="M194.95 534.22V538.83M193.65 538.83H196.25" stroke="#5c5c5c" stroke-width="0.7" fill="none"/>
<text transform="translate(194.95 527.1) scale(1.04 1)" class="lt le" text-anchor="middle">b</text>
<path d="M222.05 605.28V602.11M220.75 602.11H223.35" stroke="#b4b4b4" stroke-width="0.7" fill="none"/>
<path d="M222.05 605.28V608.45M220.75 608.45H223.35" stroke="#b4b4b4" stroke-width="0.7" fill="none"/>
<text transform="translate(222.05 599.61) scale(1.04 1)" class="lt le" text-anchor="middle">a</text>
<path d="M237.75 583.08V564.63M236.45 564.63H239.05" stroke="#b4b4b4" stroke-width="0.7" fill="none"/>
<path d="M237.75 583.08V601.53M236.45 601.53H239.05" stroke="#8a8a8a" stroke-width="0.7" fill="none"/>
<text transform="translate(237.75 562.13) scale(1.04 1)" class="lt le" text-anchor="middle">a</text>
<path d="M253.45 479.3V474.22M252.15 474.22H254.75" stroke="#b4b4b4" stroke-width="0.7" fill="none"/>
<path d="M253.45 479.3V484.37M252.15 484.37H254.75" stroke="#5c5c5c" stroke-width="0.7" fill="none"/>
<text transform="translate(253.45 471.72) scale(1.04 1)" class="lt le" text-anchor="middle">a</text>
<path d="M33.2 456.4H267V629.5" stroke="#444" stroke-width="1" fill="none"/>
<path d="M33.2 455.9V629.5" stroke="#444" stroke-width="1" fill="none"/>
<path d="M30 629.5H267.5" stroke="#2b2b2b" stroke-width="1.15" fill="none"/>
<path d="M30 629.5H33.2" stroke="#2b2b2b" stroke-width="0.9"/>
<text transform="translate(28 632) scale(1.09 1)" class="tk2" text-anchor="end">0</text>
<path d="M30 600.67H33.2" stroke="#2b2b2b" stroke-width="0.9"/>
<text transform="translate(28 603.17) scale(1.09 1)" class="tk2" text-anchor="end">10</text>
<path d="M30 571.84H33.2" stroke="#2b2b2b" stroke-width="0.9"/>
<text transform="translate(28 574.34) scale(1.09 1)" class="tk2" text-anchor="end">20</text>
<path d="M30 543.01H33.2" stroke="#2b2b2b" stroke-width="0.9"/>
<text transform="translate(28 545.51) scale(1.09 1)" class="tk2" text-anchor="end">30</text>
<path d="M30 514.18H33.2" stroke="#2b2b2b" stroke-width="0.9"/>
<text transform="translate(28 516.68) scale(1.09 1)" class="tk2" text-anchor="end">40</text>
<path d="M30 485.35H33.2" stroke="#2b2b2b" stroke-width="0.9"/>
<text transform="translate(28 487.85) scale(1.09 1)" class="tk2" text-anchor="end">50</text>
<path d="M30 456.52H33.2" stroke="#2b2b2b" stroke-width="0.9"/>
<text transform="translate(28 459.02) scale(1.09 1)" class="tk2" text-anchor="end">60</text>
<path d="M62.25 629.5V632.7" stroke="#2b2b2b" stroke-width="0.9"/>
<text transform="translate(62.25 641) scale(1.09 1)" class="tk2" text-anchor="middle">0</text>
<path d="M120.75 629.5V632.7" stroke="#2b2b2b" stroke-width="0.9"/>
<text transform="translate(120.75 641) scale(1.09 1)" class="tk2" text-anchor="middle">3</text>
<path d="M179.25 629.5V632.7" stroke="#2b2b2b" stroke-width="0.9"/>
<text transform="translate(179.25 641) scale(1.09 1)" class="tk2" text-anchor="middle">9</text>
<path d="M237.75 629.5V632.7" stroke="#2b2b2b" stroke-width="0.9"/>
<text transform="translate(237.75 641) scale(1.09 1)" class="tk2" text-anchor="middle">12</text>
<text transform="translate(150.7 652.9) scale(1.01 1)" class="ar" text-anchor="middle">Time (hr)</text>
<text transform="translate(149.3 669.3) scale(1.0 1)" class="cp" text-anchor="middle">(e)</text>
<text id="yl-e" transform="translate(12.7 543) rotate(-90) scale(1.075 1)" class="ar" text-anchor="middle"><tspan>GST (10</tspan><tspan class="su" dy="-3">-2</tspan><tspan dy="3" font-size="0.1">&#8203;</tspan><tspan>U/mg pro)</tspan></text>
</g>
<g id="legend">
<rect x="47.5" y="13.5" width="18.8" height="8.6" rx="1" fill="#ffffff" stroke="#7a7a7a" stroke-width="0.9"/>
<text transform="translate(68.9 20.8) scale(0.925 1)" class="lg" text-anchor="start">Control</text>
<rect x="47.5" y="24.3" width="18.8" height="8.6" rx="1" fill="#c0c0c0" stroke="#7a7a7a" stroke-width="0.9"/>
<text transform="translate(68.9 31.6) scale(0.925 1)" class="lg" text-anchor="start">Shake flaks optimization</text>
<rect x="47.5" y="35.1" width="18.8" height="8.6" rx="1" fill="#808080" stroke="#5a5a5a" stroke-width="0.9"/>
<text transform="translate(68.9 42.4) scale(0.925 1)" class="lg" text-anchor="start">50L optimization</text>
</g>
</svg>
</body>
</html>
